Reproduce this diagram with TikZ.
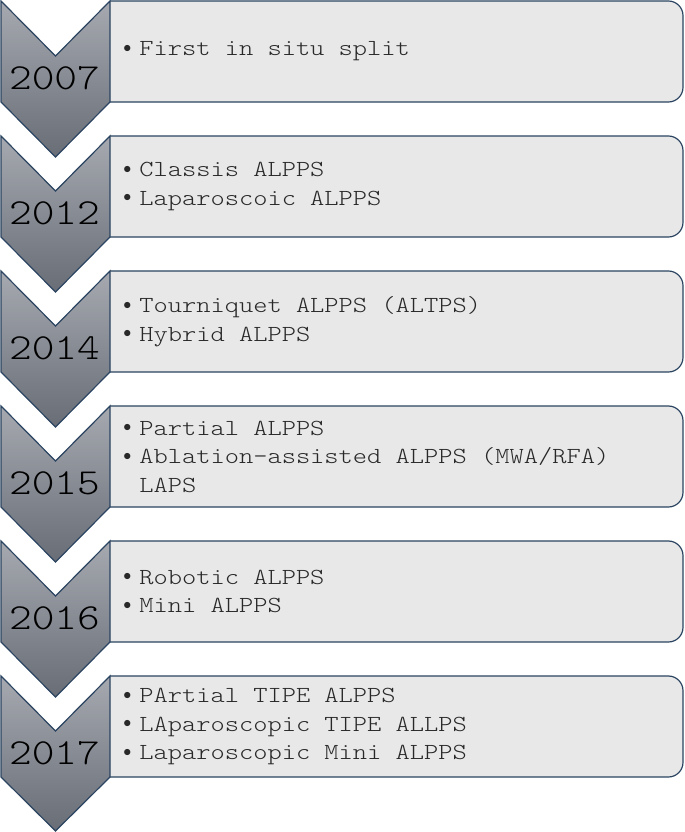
\documentclass[tikz,border=0pt]{standalone}
\usepackage{fontspec}
\newfontfamily\monofont[FakeStretch=1.18]{lmmonolt10-regular.otf}
\newcommand{\bitem}{\llap{\makebox[18pt][c]{\raisebox{2.5pt}{\fontsize{12}{12}\selectfont$\bullet$}}}}

\begin{document}
\begin{tikzpicture}[x=0.75pt,y=0.75pt,yscale=-1,xscale=1,
    stage/.style={draw={rgb, 255:red, 43; green, 68; blue, 97}, fill={rgb, 255:red, 232; green, 232; blue, 232}, line width=0.9pt, rounded corners=11pt},
    chevron/.style={draw={rgb, 255:red, 43; green, 68; blue, 97}, line width=0.9pt, line join=miter, top color={rgb, 255:red, 166; green, 169; blue, 176}, bottom color={rgb, 255:red, 104; green, 109; blue, 118}},
    yeartext/.style={anchor=base, inner sep=0pt, font=\monofont\fontsize{27.5}{33}\selectfont},
    itemtext/.style={anchor=west, inner sep=0pt, align=left, text={rgb, 255:red, 40; green, 40; blue, 40}, font=\monofont\fontsize{17.25}{21.4}\selectfont}]
        \useasboundingbox (0,0) rectangle (685,832);
        %Shape: Box
        \draw [stage] (110,1) -- (683,1) -- (683,102) -- (110,102) ;
        %Shape: Chevron
        \draw [chevron] (1,1) -- (55.5,56) -- (110,1) -- (110,102) -- (55.5,157) -- (1,102) -- cycle ;
        %Shape: Box
        \draw [stage] (110,136) -- (683,136) -- (683,237) -- (110,237) ;
        %Shape: Chevron
        \draw [chevron] (1,136) -- (55.5,191) -- (110,136) -- (110,237) -- (55.5,292) -- (1,237) -- cycle ;
        %Shape: Box
        \draw [stage] (110,271) -- (683,271) -- (683,372) -- (110,372) ;
        %Shape: Chevron
        \draw [chevron] (1,271) -- (55.5,326) -- (110,271) -- (110,372) -- (55.5,427) -- (1,372) -- cycle ;
        %Shape: Box
        \draw [stage] (110,406) -- (683,406) -- (683,507) -- (110,507) ;
        %Shape: Chevron
        \draw [chevron] (1,406) -- (55.5,461) -- (110,406) -- (110,507) -- (55.5,562) -- (1,507) -- cycle ;
        %Shape: Box
        \draw [stage] (110,541) -- (683,541) -- (683,642) -- (110,642) ;
        %Shape: Chevron
        \draw [chevron] (1,541) -- (55.5,596) -- (110,541) -- (110,642) -- (55.5,697) -- (1,642) -- cycle ;
        %Shape: Box
        \draw [stage] (110,676) -- (683,676) -- (683,777) -- (110,777) ;
        %Shape: Chevron
        \draw [chevron] (1,676) -- (55.5,731) -- (110,676) -- (110,777) -- (55.5,831) -- (1,777) -- cycle ;

        % Text Node
        \node [yeartext] (y2007) at (54.5,89) {2007};
        % Text Node
        \node [itemtext] (i2007) at (139,51.5) {\bitem First in situ split};
        % Text Node
        \node [yeartext] (y2012) at (54.5,224) {2012};
        % Text Node
        \node [itemtext] (i2012) at (139,186.5) {\bitem Classis ALPPS\\ \bitem Laparoscoic ALPPS};
        % Text Node
        \node [yeartext] (y2014) at (54.5,359) {2014};
        % Text Node
        \node [itemtext] (i2014) at (139,321.5) {\bitem Tourniquet ALPPS (ALTPS)\\ \bitem Hybrid ALPPS};
        % Text Node
        \node [yeartext] (y2015) at (54.5,494) {2015};
        % Text Node
        \node [itemtext] (i2015) at (139,456.5) {\bitem Partial ALPPS\\ \bitem Ablation-assisted ALPPS (MWA/RFA)\\ LAPS};
        % Text Node
        \node [yeartext] (y2016) at (54.5,629) {2016};
        % Text Node
        \node [itemtext] (i2016) at (139,591.5) {\bitem Robotic ALPPS\\ \bitem Mini ALPPS};
        % Text Node
        \node [yeartext] (y2017) at (54.5,764) {2017};
        % Text Node
        \node [itemtext] (i2017) at (139,726.5) {\bitem PArtial TIPE ALPPS\\ \bitem LAparoscopic TIPE ALLPS\\ \bitem Laparoscopic Mini ALPPS};
\end{tikzpicture}
\end{document}
